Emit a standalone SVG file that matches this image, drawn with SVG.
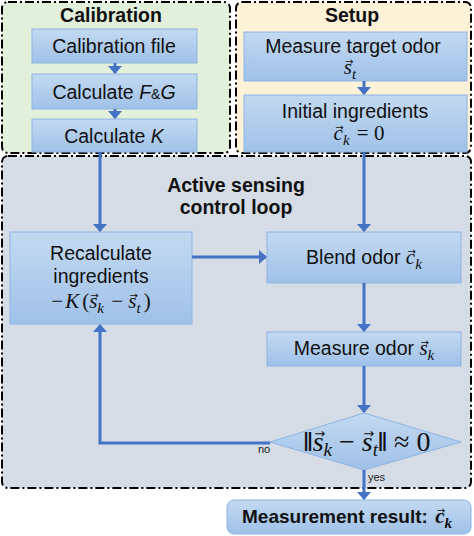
<svg xmlns="http://www.w3.org/2000/svg" width="474" height="536" viewBox="0 0 474 536">
<defs>
<linearGradient id="bg" x1="0" y1="0" x2="0" y2="1">
<stop offset="0" stop-color="#c3d9f1"/>
<stop offset="1" stop-color="#9fc1e8"/>
</linearGradient>
<marker id="ah" viewBox="0 0 8 14" refX="7" refY="7" markerWidth="8" markerHeight="14" markerUnits="userSpaceOnUse" orient="auto">
<path d="M0,0 L8,7 L0,14 z" fill="#4472c4"/>
</marker>
<style>
.cont{stroke:#000;stroke-width:2;stroke-dasharray:9 3 2 3}
.box{fill:url(#bg);stroke:#8eb4e3;stroke-width:1}
.t{font-family:"Liberation Sans",Arial,sans-serif;font-size:19.5px;fill:#111;text-anchor:middle}
.b{font-weight:bold}
.m{font-family:"Liberation Serif","DejaVu Serif",serif;font-style:italic;font-weight:normal}
.m21{font-size:21px}
.sub{font-size:15px}
.va{font-family:"DejaVu Sans",sans-serif;font-style:normal;font-weight:normal;font-size:10px}
.vb{font-family:"DejaVu Sans",sans-serif;font-style:normal;font-weight:normal;font-size:13px}
.c{stroke:#4472c4;stroke-width:3;fill:none;marker-end:url(#ah)}
.s{font-family:"Liberation Sans",Arial,sans-serif;font-size:11px;fill:#222}
</style>
</defs>
<g id="calibration">
<rect class="cont" x="2" y="2" width="228" height="151" rx="6" fill="#e2efda"/>
<text class="t b" x="111" y="22">Calibration</text>
</g>
<g id="setup">
<rect class="cont" x="236" y="2" width="235" height="151" rx="6" fill="#fdf2d8"/>
<text class="t b" x="352" y="22">Setup</text>
</g>
<g id="active">
<rect class="cont" x="2" y="156" width="469" height="332" rx="6" fill="#d6dce5"/>
<text class="t b" x="236" y="192">Active sensing</text>
<text class="t b" x="236" y="214">control loop</text>
</g>
<g id="calfile">
<rect class="box" x="32" y="29" width="165" height="34"/>
<text class="t" x="114" y="53">Calibration file</text>
</g>
<g id="calcFG">
<rect class="box" x="32" y="74" width="165" height="35"/>
<text class="t" x="114" y="99">Calculate <tspan font-style="italic">F</tspan><tspan style="font-size:14px">&amp;</tspan><tspan font-style="italic">G</tspan></text>
</g>
<g id="calcK">
<rect class="box" x="32" y="119" width="165" height="33"/>
<text class="t" x="114" y="143">Calculate <tspan font-style="italic">K</tspan></text>
</g>
<g id="measTarget">
<rect class="box" x="244" y="32" width="223" height="49"/>
<text class="t" x="353" y="53">Measure target odor</text>
<text class="t m m21" x="350" y="74">s<tspan class="va" dx="-7.1" dy="-9.5">→</tspan><tspan class="sub" dx="-1.3" dy="14">t</tspan></text>
</g>
<g id="initIng">
<rect class="box" x="244" y="95" width="223" height="57"/>
<text class="t" x="355" y="118">Initial ingredients</text>
<text class="t m m21" x="359" y="140">c<tspan class="va" dx="-7.6" dy="-9.5">→</tspan><tspan class="sub" dx="-0.7" dy="14">k</tspan><tspan font-style="normal" dy="-4.5" dx="2"> = 0</tspan></text>
</g>
<g id="recalc">
<rect class="box" x="10" y="232" width="182" height="92"/>
<text class="t" x="101" y="260">Recalculate</text>
<text class="t" x="101" y="283">ingredients</text>
<text class="t m m21" x="101" y="308"><tspan font-style="normal">−</tspan><tspan dx="2">K</tspan><tspan font-style="normal" dx="3">(</tspan>s<tspan class="va" dx="-7.1" dy="-9.5">→</tspan><tspan class="sub" dx="-1.3" dy="14">k</tspan><tspan font-style="normal" dy="-4.5" dx="2"> − </tspan>s<tspan class="va" dx="-7.1" dy="-9.5">→</tspan><tspan class="sub" dx="-1.3" dy="14">t</tspan><tspan font-style="normal" dy="-4.5" dx="3">)</tspan></text>
</g>
<g id="blend">
<rect class="box" x="267" y="232" width="194" height="51"/>
<text class="t" x="364" y="264">Blend odor <tspan class="m m21">c</tspan><tspan class="va" dx="-7.6" dy="-9.5">→</tspan><tspan class="m sub" dx="-0.7" dy="14">k</tspan></text>
</g>
<g id="measOdor">
<rect class="box" x="267" y="332" width="194" height="34"/>
<text class="t" x="364" y="355">Measure odor <tspan class="m m21">s</tspan><tspan class="va" dx="-7.1" dy="-9.5">→</tspan><tspan class="m sub" dx="-1.3" dy="14">k</tspan></text>
</g>
<g id="decision">
<polygon class="box" points="270,442 364,413 461,442 364,470"/>
<text class="t m" x="367" y="451" style="font-size:28px"><tspan font-style="normal" font-weight="bold">‖</tspan>s<tspan class="vb" dx="-9.4" dy="-13">→</tspan><tspan style="font-size:19px" dx="-1.5" dy="18">k</tspan><tspan font-style="normal" dy="-5"> − </tspan>s<tspan class="vb" dx="-9.4" dy="-13">→</tspan><tspan style="font-size:19px" dx="-1.5" dy="18">t</tspan><tspan font-style="normal" dy="-5"><tspan font-weight="bold">‖</tspan> ≈ 0</tspan></text>
</g>
<g id="result">
<rect class="box" x="227" y="500" width="244" height="34" rx="7"/>
<text class="t b" x="242" y="523" style="font-size:19px;text-anchor:start">Measurement result: <tspan class="m m21" style="font-weight:bold" dx="2">c</tspan><tspan class="va" dx="-7.6" dy="-9.5">→</tspan><tspan class="m sub" style="font-weight:bold" dx="-0.7" dy="14">k</tspan></text>
</g>
<g id="connectors">
<path class="c" d="M115,63 V73"/>
<path class="c" d="M115,109 V118"/>
<path class="c" d="M100,152 V231"/>
<path class="c" d="M364,81 V94"/>
<path class="c" d="M364,152 V231"/>
<path class="c" d="M192,257 H266"/>
<path class="c" d="M364,283 V331"/>
<path class="c" d="M364,366 V412"/>
<path class="c" d="M270,443 H100 V325"/>
<path class="c" d="M364,470 V499"/>
<text class="s" x="258" y="453">no</text>
<text class="s" x="368" y="481">yes</text>
</g>
</svg>
